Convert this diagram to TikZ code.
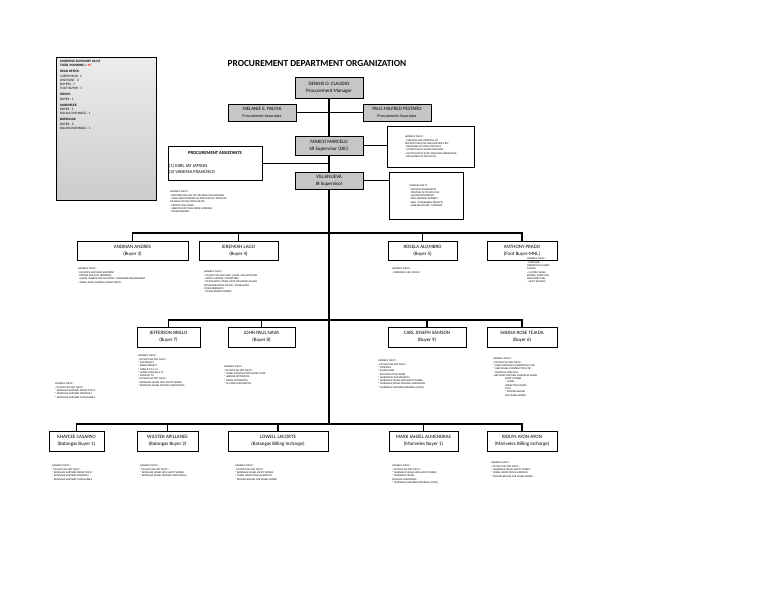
\documentclass[tikz,border=0pt]{standalone}
\usepackage{fontspec}
\setmainfont{Carlito}
\usepackage{tikz}
\usetikzlibrary{positioning,shadings}
\tikzstyle{person}=[rectangle,fill=white,draw=black,line width=0.9pt,inner sep=0pt,align=center,font=\fontsize{5}{7}\selectfont]
\tikzstyle{boss}=[person,fill=gray!45]
\tikzstyle{note}=[rectangle,draw=black,line width=0.7pt,inner sep=2pt,align=left,anchor=north west,font=\fontsize{2.6}{3.3}\selectfont]
\tikzstyle{duty}=[inner sep=0pt,align=left,anchor=north west,font=\fontsize{2.6}{3.3}\selectfont]
\tikzstyle{bus}=[line width=1.4pt]
\tikzstyle{link}=[line width=0.6pt]

\begin{document}
\begin{tikzpicture}[x=1pt,y=-1pt]
                \useasboundingbox (0,0) rectangle (768,594);

                \node[rectangle,draw=black,line width=0.8pt,top color=gray!15,bottom color=gray!40,minimum width=100pt,minimum height=143pt,anchor=north west] (summary) at (56,57) {};
                \node[duty,font=\fontsize{3.4}{4.2}\selectfont] (summarytext) at (60,60) {\textbf{MANNING SUMMARY AS OF}\\\textbf{TOTAL MANNING = {\color{red}19}}\\[2pt]
                        \textbf{HEAD OFFICE:}\\SUPERVISOR - 2\\ASSISTANT - 2\\BUYERS - 7\\FOOT BUYER - 1\\[2pt]
                        \textbf{ORION:}\\BUYER - 1\\[2pt]
                        \textbf{MARIVELES:}\\BUYER - 1\\BILLING INCHARGE - 1\\[2pt]
                        \textbf{BATANGAS:}\\BUYER - 2\\BILLING INCHARGE - 1};

                \node[font=\bfseries\fontsize{9.3}{10}\selectfont] (title) at (317,63) {PROCUREMENT DEPARTMENT ORGANIZATION};

                \node[boss,minimum width=68pt,minimum height=21pt] (dennis) at (329,87.5) {DENNIS O. CLAUDIO\\Procurement Manager};
                \node[boss,minimum width=68pt,minimum height=17pt] (melanie) at (262,112.5) {MELANIE E. PALMA\\{\fontsize{4}{5}\selectfont Procurement Associates}};
                \node[boss,minimum width=68pt,minimum height=17pt] (paul) at (397,112.5) {PAUL MILFRED PESTAÑO\\{\fontsize{4}{5}\selectfont Procurement Associates}};
                \node[boss,minimum width=68pt,minimum height=19pt] (marco) at (329,145.5) {MARCO MARCELO\\SR Supervisor (OIC)};
                \node[boss,minimum width=68pt,minimum height=17pt] (villa) at (329,180.5) {VILLANUEVA\\JR Supervisor};

                \node[person,minimum width=94pt,minimum height=34pt,line width=0.7pt] (assist) at (215,163) {};
                \node[font=\bfseries\fontsize{4.6}{6}\selectfont] (assisttitle) at (215,153) {PROCUREMENT ASSISTANTS};
                \node[duty,font=\fontsize{4.6}{6}\selectfont] (assistnames) at (169,164) {(1) EARL JAY JAPSON\\(2) VANESSA FRANCISCO};

                \node[note,minimum width=87pt,minimum height=41pt] (marconote) at (387,126) {HANDLES THE FF :\\- CHECKING AND APPROVAL OF\\PRF/PR/PO/RO/COA AND SUPPLIER'S PAY\\- REVIEWING OF LONG CONTRACT\\- PO/WO/COA OF SLAKTE SKOLSVAN\\- PO/WO/COA OF SHOE, SKOLSVAN WAREHOUSE\\- REGULATING OF PRF/PO/CO};
                \node[note,minimum width=74pt,minimum height=47pt] (villanote) at (389,172) {HANDLES THE FF :\\- SMOLSKY/PLOWSHEETS\\- PRINTING OF PO/WO/COA\\- LIQUIDATION REPORT\\- PROCUREMENT REPORTS\\- SKOL / SCADENSKOL PROJECTS\\- SHOE IBAJAN PRS / MATERIAS};
                \node[duty] (assistduty) at (170,191) {HANDLES THE FF :\\- RECEIVED AND LOG OFF PRS FROM THE ENDUSER\\- FILING AND SCANNING OF DOCUMENTS / SEND FAX\\OR EMAIL PO/COA/DOCUMENTS\\- EXPORT CASH CHECK\\- SEND/PICKUP ITEMS FROM SUPPLIERS\\- OTHER ERRANDS};

                % buyers
                \node[person,minimum width=111pt,minimum height=19pt] (andrian) at (132.5,250.5) {ANDRIAN ANDRES\\(Buyer 3)};
                \node[person,minimum width=79pt,minimum height=19pt] (jeremiah) at (238.5,250.5) {JEREMIAH LAGO\\(Buyer 4)};
                \node[person,minimum width=69pt,minimum height=19pt] (rosela) at (422.5,250.5) {ROSELA ALOMBRO\\(Buyer 5)};
                \node[person,minimum width=70pt,minimum height=19pt] (anthony) at (522,250.5) {ANTHONY PRADO\\(Foot Buyer-MNL)};

                \node[person,minimum width=63pt,minimum height=20pt] (jefferson) at (168.5,337) {JEFFERSON BRILLO\\(Buyer 7)};
                \node[person,minimum width=67pt,minimum height=20pt] (johnpaul) at (261.5,337) {JOHN PAUL NAVA\\(Buyer 8)};
                \node[person,minimum width=78pt,minimum height=20pt] (carl) at (427,337) {CARL JOSEPH SAMSON\\(Buyer 9)};
                \node[person,minimum width=70pt,minimum height=20pt] (sheina) at (522,337) {SHEINA ROSE TEJADA\\(Buyer 6)};

                \node[person,minimum width=55pt,minimum height=20pt] (khaycee) at (76.5,441) {KHAYCEE CASAPAO\\(Batangas Buyer 1)};
                \node[person,minimum width=61pt,minimum height=20pt] (wilster) at (167.5,441) {WILSTER APILLANES\\(Batangas Buyer 2)};
                \node[person,minimum width=100pt,minimum height=20pt] (lowell) at (278,441) {LOWELL LACORTE\\(Batangas Billing Incharge)};
                \node[person,minimum width=69pt,minimum height=20pt] (mark) at (423.5,441) {MARK JAHZEL ALMENDRAS\\(Mariveles Buyer 1)};
                \node[person,minimum width=70pt,minimum height=20pt] (riolyn) at (522,441) {RIOLYN AYON-AYON\\(Mariveles Billing Incharge)};

                % duties
                \node[duty] (andrianduty) at (78,268) {HANDLES THE FF :\\- LOGISTICS INCOMING SHIPMENT\\- PETRON AND FUEL ORDERING\\- SLAKTE, SUBBOX AND MANSTON / HARDWARE REQUIREMENT\\- VESSEL TANK CLEANING (CONVS, REGT.)};
                \node[duty] (jeremiahduty) at (204,271) {HANDLES THE FF :\\- PO/WO/COA FOR SHOE, SLAKTE, AND AFFILIATES\\- OFFICE SUPPLIES / FURNITURES\\- PO FOR SKOLL OTHER UNITS APPLIANCES (SMALL\\ADMINISTRATIONS OFFICE) / SPANIA BLDG\\IT REQUIREMENTS\\- PO FOR PRINTED FORMS};
                \node[duty] (roseladuty) at (392,268) {HANDLES THE FF :\\- ORDERING FUEL FOR PLC};
                \node[duty] (anthonyduty) at (527,258) {HANDLES THE FF :\\- PURCHASE\\OPERATION OUTSIDE\\CANVAS\\- CUSTOM VESSEL\\REPAIRS, SURVEYING\\AND INSPECTION\\- ASSET TAGGING};
                \node[duty] (jeffersonduty) at (138,355) {HANDLES THE FF :\\- PO/WO/COA FOR THE FF :\\{*} SHS PROJECT\\{*} BAKKO PROJECT\\{*} FORKLIFT R.A. M\\{*} VESSEL SUPPLIER \& M\\{*} SUPPLIER TO\\- PO/WO/COA FOR THE FF :\\{*} BATANGAS VESSEL NON SAFETY WORKS\\{*} BATANGAS VESSEL DOCKING/UNDOCKING};
                \node[duty] (johnpaulduty) at (224,366) {HANDLES THE FF :\\- PO/WO/COA FOR THE FF :\\{*} VESSEL CONSTRUCTION/SAFETY TASK\\{*} HARBOR MOTORPOOL\\{*} ORION MOTORPOOL\\{*} LA UNION MOTORPOOL};
                \node[duty] (carlduty) at (378,360) {HANDLES THE FF :\\- PO/WO/COA FOR THE FF :\\{*} CRISPINAS\\{*} SLAKTE SKINS\\{*} MILLINION TONS WORK\\{*} MARIVELES FIELD PROJECTS\\{*} MARIVELES VESSEL NON SAFETY WORKS\\{*} MARIVELES VESSEL DOCKING/UNDOCKING\\{*} MARIVELES SHIPYARD MATERIALS (CONS)};
                \node[duty] (sheinaduty) at (493,358) {HANDLES THE FF :\\- PO/WO/COA FOR THE FF :\\{*} SHEOL DREDGING (OPERATION) / EXP\\{*} NEW VESSEL CONSTRUCTION FOR\\{*} NAVOTAS LANDCOPIA\\- BID DUMP DISPOSAL MARIVELES VESSEL\\\hspace*{12pt}SAFETY WORKS\\\hspace*{12pt}{*} VESSEL\\\hspace*{12pt}INSPECTION/VALIDA\\\hspace*{12pt}TION\\\hspace*{12pt}{*} PROCESS BILLING\\\hspace*{12pt}FOR VESSEL WORKS};
                \node[duty] (jeffersonduty2) at (55,383) {HANDLES THE FF :\\- PO/WO/COA FOR THE FF :\\{*} BATANGAS SHIPYARD PROJECT DEVT\\{*} BATANGAS SHIPYARD MATERIALS\\{*} BATANGAS SHIPYARD CONSUMABLE};
                \node[duty] (khayceeduty) at (52,465) {HANDLES THE FF :\\- PO/WO/COA FOR THE FF :\\{*} BATANGAS SHIPYARD PROJECT DEVT\\{*} BATANGAS SHIPYARD MATERIALS\\{*} BATANGAS SHIPYARD CONSUMABLE};
                \node[duty] (wilsterduty) at (140,465) {HANDLES THE FF :\\- PO/WO/COA FOR THE FF :\\{*} BATANGAS VESSEL NON SAFETY WORKS\\{*} BATANGAS VESSEL DOCKING/UNDOCKING};
                \node[duty] (lowellduty) at (235,465) {HANDLES THE FF :\\- PO/WO/COA FOR THE FF :\\{*} BATANGAS VESSEL SAFETY WORKS\\{*} VESSEL INSPECTION/VALIDATION\\{*} PROCESS BILLING FOR VESSEL WORKS};
                \node[duty] (markduty) at (392,465) {HANDLES THE FF :\\- PO/WO/COA FOR THE FF :\\{*} MARIVELES VESSEL NON SAFETY WORKS\\{*} MARIVELES VESSEL\\DOCKING/UNDOCKING\\{*} MARIVELES SHIPYARD MATERIALS (CONS)};
                \node[duty] (riolynduty) at (491,462) {HANDLES THE FF :\\- PO/WO/COA FOR THE FF :\\{*} MARIVELES VESSEL SAFETY WORKS\\{*} VESSEL INSPECTION/VALIDATION\\{*} PROCESS BILLING FOR VESSEL WORKS};

                % connectors
                \coordinate (trunkend) at (329,424);
                \coordinate (row1) at (329,233);
                \coordinate (row2) at (329,320);
                \draw[bus] (dennis) -- (marco);
                \draw[bus] (marco) -- (villa);
                \draw[bus] (villa) -- (trunkend);
                \draw[bus] (melanie) -- (paul);
                \draw[link] (marco.east) -- (marco.east -| marconote.west);
                \draw[link] (villa) -- (villanote.west |- villa);
                \draw[link] (assist.east) -- (assist.east -| villa);
                \draw[bus] (andrian.north) |- (row1) -| (anthony.north);
                \draw[bus] (jeremiah.north) -- (jeremiah.north |- row1);
                \draw[bus] (rosela.north) -- (rosela.north |- row1);
                \draw[bus] (jefferson.north) |- (row2) -| (sheina.north);
                \draw[bus] (johnpaul.north) -- (johnpaul.north |- row2);
                \draw[bus] (carl.north) -- (carl.north |- row2);
                \draw[bus] (khaycee.north) |- (trunkend) -| (riolyn.north);
                \draw[bus] (wilster.north) -- (wilster.north |- trunkend);
                \draw[bus] (lowell.north) -- (lowell.north |- trunkend);
                \draw[bus] (mark.north) -- (mark.north |- trunkend);
\end{tikzpicture}
\end{document}
